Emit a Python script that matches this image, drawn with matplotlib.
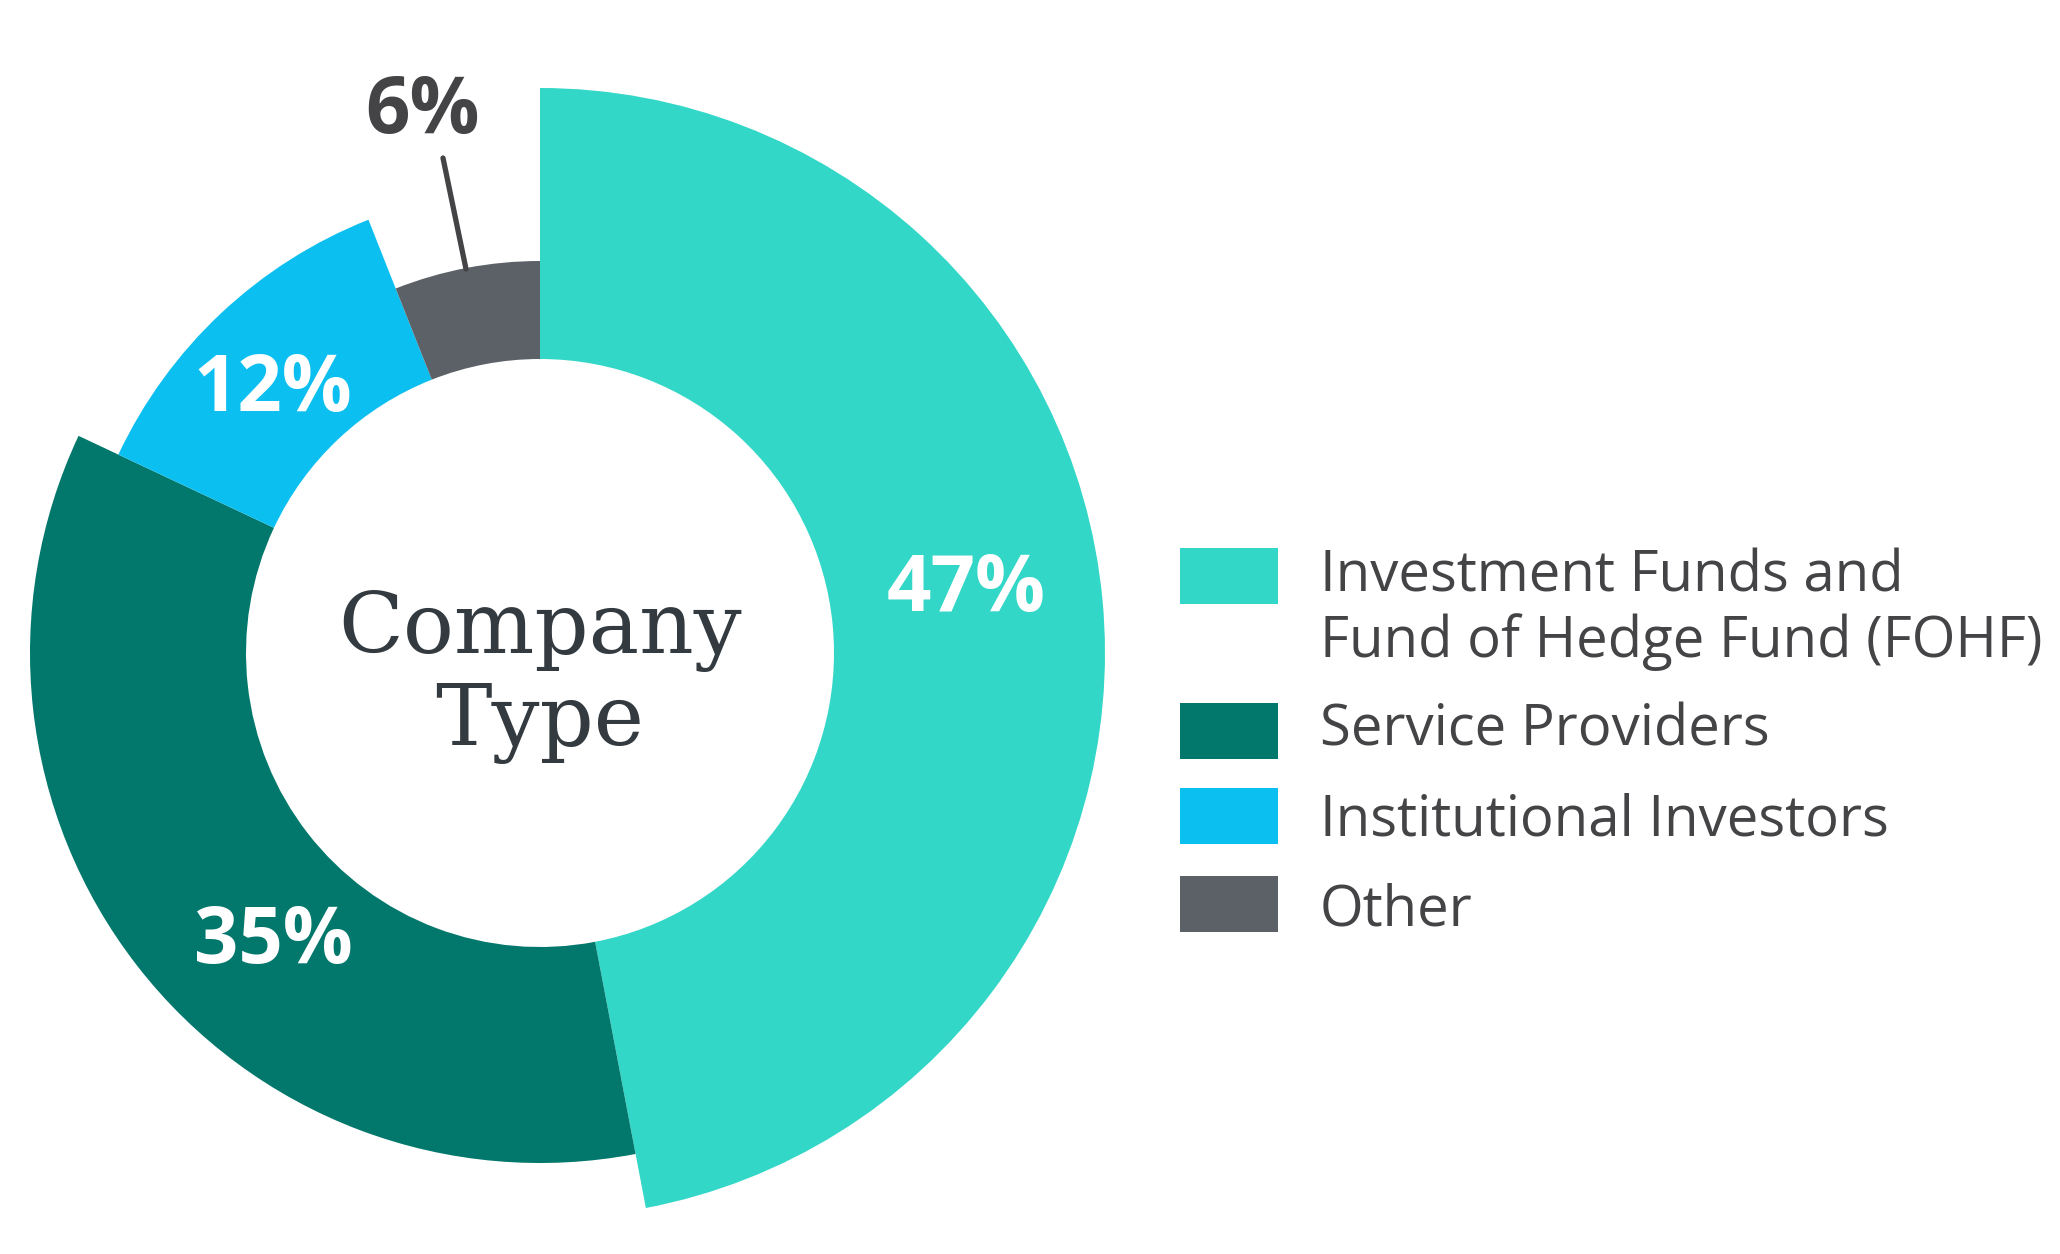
import matplotlib.pyplot as plt
from matplotlib.patches import Rectangle

# data
labels = ['Investment Funds and\nFund of Hedge Fund (FOHF)', 'Service Providers',
          'Institutional Investors', 'Other']
shares = [47, 35, 12, 6]
colors = ['#33D7C7', '#02776B', '#0CBFF1', '#5B6167']
outer_r = [565, 510, 466, 392]
inner_r = 294

cx, cy = 540, 601

fig = plt.figure(figsize=(20.6, 12.54), dpi=100)
ax = fig.add_axes([0, 0, 1, 1])

wedges, _ = ax.pie(shares, colors=colors, startangle=90, counterclock=False,
                   center=(cx, cy), radius=500, frame=True)
for w, r in zip(wedges, outer_r):
    w.set_radius(r)
    w.set_width(r - inner_r)
    w.set_linewidth(0)
ax.set_xlim(0, 2060)
ax.set_ylim(0, 1254)
ax.set_aspect('equal')
ax.axis('off')

# percentage labels
pct_pos = [(966, 663), (273, 311), (273, 864), (423, 1142)]
pct_col = ['white', 'white', 'white', '#444447']
for s, (x, y), c in zip(shares, pct_pos, pct_col):
    ax.text(x, y, f'{s}%', ha='center', va='center', fontsize=56,
            fontweight='bold', family='Open Sans', color=c)

ax.plot([443, 466], [1096, 985], color='#444447', lw=3.8, solid_capstyle='round')

ax.text(cx, 1254 - 653, 'Company', ha='center', va='baseline', fontsize=61,
        family='DejaVu Serif', color='#333B40')
ax.text(cx, 1254 - 745, 'Type', ha='center', va='baseline', fontsize=61,
        family='DejaVu Serif', color='#333B40')

# legend
box_top = [548, 703, 788, 876]
text_base = [591, 746, 836, 925]
for lab, c, bt, tb in zip(labels, colors, box_top, text_base):
    ax.add_patch(Rectangle((1180, 1254 - bt - 56), 98, 56, color=c, lw=0))
    lines = lab.split('\n')
    for i, ln in enumerate(lines):
        ax.text(1320, 1254 - tb - i * 66, ln, ha='left', va='baseline',
                fontsize=40.5, family='Open Sans', color='#444447')

fig.savefig('out.png', dpi=100, facecolor='white')
